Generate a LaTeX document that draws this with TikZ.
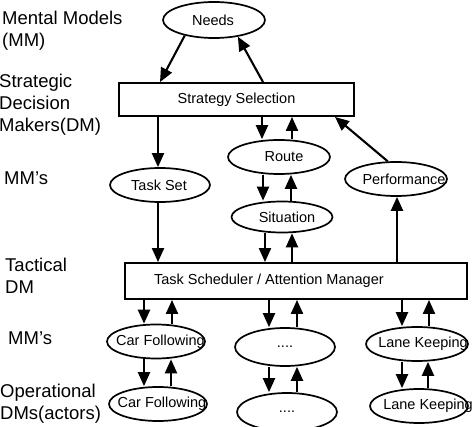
\documentclass[tikz,border=0pt]{standalone}
\usepackage{fontspec}
\setmainfont{Liberation Sans}
\usetikzlibrary{shapes.geometric, arrows.meta}

\newcommand{\mmtext}[2][0pt]{\makebox[0pt]{\kern#1\relax #2\kern-#1\relax}}

\begin{document}
\begin{tikzpicture}[x=1pt, y=-1pt]
            \tikzstyle{every node}+=[inner sep=0pt]
            \tikzstyle{mm}=[draw, ellipse, line width=1.7pt, minimum width=101pt, minimum height=34pt, font=\fontsize{14.5}{17}\selectfont]
            \tikzstyle{dm}=[draw, rectangle, line width=1.9pt, font=\fontsize{14.5}{17}\selectfont]
            \tikzstyle{level}=[anchor=north west, align=left, font=\fontsize{18.5}{22}\selectfont]
            \tikzstyle{arr}=[line width=2.1pt, -{Triangle[length=14pt, width=12pt]}]
            \useasboundingbox (0, 0) rectangle (474, 427);
            % levels
            \node [level] (lmm) at (2, 10.6) {Mental Models\\(MM)};
            \node [level] (ldm) at (-1, 73.6) {Strategic\\Decision\\Makers(DM)};
            \node [level] (lmms) at (4, 171.6) {MM's};
            \node [level] (ltac) at (5, 257.6) {Tactical\\DM};
            \node [level] (lmmt) at (8, 331.6) {MM's};
            \node [level] (lop) at (0, 383.6) {Operational\\DMs(actors)};
            % strategic
            \node [mm, minimum width=102pt, minimum height=36pt] (needs) at (214, 20) {\mmtext[-1pt]{Needs}};
            \node [dm, minimum width=235pt, minimum height=33pt] (strat) at (236.5, 99.5) {Strategy Selection};
            \node [mm, minimum width=100pt] (taskset) at (160, 185) {\mmtext[-1pt]{Task Set}};
            \node [mm, minimum width=102pt] (route) at (279, 157) {\mmtext[5pt]{Route}};
            \node [mm, minimum width=102pt] (perf) at (396, 179) {\mmtext[8pt]{Performance}};
            \node [mm, minimum width=101pt, minimum height=31pt] (sit) at (282, 217) {\mmtext[5pt]{Situation}};
            % tactical
            \node [dm, minimum width=342pt, minimum height=36pt] (sched) at (296, 281) {\makebox[284pt][l]{Task Scheduler / Attention Manager}};
            % operational
            \node [mm, minimum width=98pt] (carmm) at (156, 341.5) {\mmtext[4.5pt]{Car Following}};
            \node [mm, minimum width=100pt, minimum height=38pt] (dotmm) at (285, 347) {\mmtext{....}};
            \node [mm, minimum width=102pt] (lanemm) at (417, 344) {\mmtext[6pt]{Lane Keeping}};
            \node [mm, minimum width=98pt] (carop) at (158, 404) {\mmtext[4pt]{Car Following}};
            \node [mm, minimum width=100pt, minimum height=38pt] (dotop) at (287, 412) {\mmtext{....}};
            \node [mm, minimum width=98pt] (laneop) at (419, 406) {\mmtext[9pt]{Lane Keeping}};
            % connectors
            \draw [arr] (needs.208) -- (strat.north -| 160, 0);
            \draw [arr] (strat.north -| 263, 0) -- (needs.325);
            \draw [arr] (strat.south -| 158, 0) -- (taskset.north -| 158, 0);
            \draw [arr] (strat.south -| 262, 0) -- (route.north -| 262, 0);
            \draw [arr] (route.north -| 292, 0) -- (strat.south -| 292, 0);
            \draw [arr] (perf.115) -- (strat.south -| 335, 0);
            \draw [arr] (route.south -| 263, 0) -- (sit.north -| 263, 0);
            \draw [arr] (sit.north -| 291, 0) -- (route.south -| 291, 0);
            \draw [arr] (taskset.south -| 158, 0) -- (sched.north -| 158, 0);
            \draw [arr] (sit.south -| 265, 0) -- (sched.north -| 265, 0);
            \draw [arr] (sched.north -| 292, 0) -- (sit.south -| 292, 0);
            \draw [arr] (sched.north -| 397, 0) -- (perf.south -| 397, 0);
            \draw [arr] (sched.south -| 144, 0) -- (carmm.north -| 144, 0);
            \draw [arr] (carmm.north -| 172, 0) -- (sched.south -| 172, 0);
            \draw [arr] (sched.south -| 269, 0) -- (dotmm.north -| 269, 0);
            \draw [arr] (dotmm.north -| 297, 0) -- (sched.south -| 297, 0);
            \draw [arr] (sched.south -| 402, 0) -- (lanemm.north -| 402, 0);
            \draw [arr] (lanemm.north -| 429, 0) -- (sched.south -| 429, 0);
            \draw [arr] (carmm.south -| 144, 0) -- (carop.north -| 144, 0);
            \draw [arr] (carop.north -| 171, 0) -- (carmm.south -| 171, 0);
            \draw [arr] (dotmm.south -| 269, 0) -- (dotop.north -| 269, 0);
            \draw [arr] (dotop.north -| 297, 0) -- (dotmm.south -| 297, 0);
            \draw [arr] (lanemm.south -| 402, 0) -- (laneop.north -| 402, 0);
            \draw [arr] (laneop.north -| 428, 0) -- (lanemm.south -| 428, 0);
        \end{tikzpicture}
\end{document}
